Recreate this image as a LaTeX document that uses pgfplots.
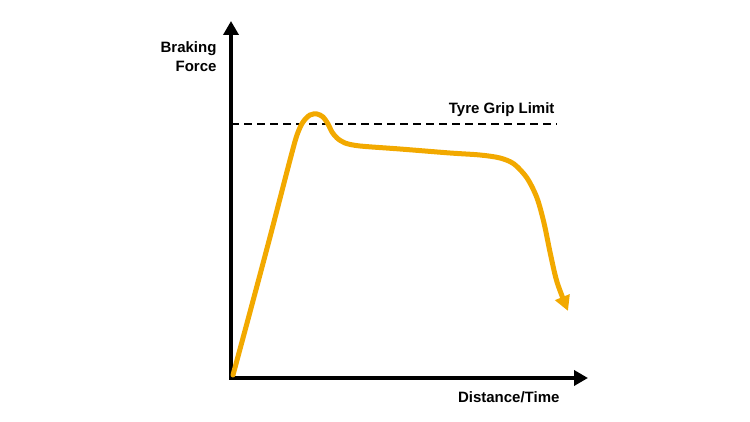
\documentclass[border=0pt]{standalone}
\usepackage{pgfplots}
\pgfplotsset{compat=1.18}
\usepackage{fontspec}
\setmainfont{Liberation Sans}
\usetikzlibrary{arrows.meta}
\definecolor{curveorange}{RGB}{242,169,0}
\begin{document}
\begin{tikzpicture}
\begin{axis}[
  x=1pt, y=1pt,
  xmin=-231, xmax=519, ymin=-44, ymax=378,
  hide axis, clip=false,
  anchor=south west, at={(0,0)},
]
% axes
\draw[line width=4pt, -{Triangle[length=14pt,width=15pt]}] (axis cs:-2,0) -- (axis cs:357,0);
\draw[line width=4pt, -{Triangle[length=14pt,width=15pt]}] (axis cs:0,-2) -- (axis cs:0,357);
% grip limit
\addplot[black, line width=1.6pt, dash pattern=on 8pt off 5pt] coordinates {(0,254) (326,254)};
% braking force curve
\addplot[curveorange, line width=5pt, smooth, tension=0.5, line cap=round,
  -{Triangle[length=15pt,width=15pt]}] coordinates {
(2,3) (19,66) (39,141) (59,218) (66,243) (72,256) (79,263) (86,264) (92,261) (97,254)
(101,246) (106,240) (114,235) (129,232) (169,229) (219,225) (249,223) (269,220)
(283,214) (296,200) (306,180) (313,155) (319,126) (326,96) (337,67)};
\node[anchor=east, align=right, font=\bfseries\fontsize{15}{19}\selectfont] at (axis cs:-11,321.5) {Braking\\Force};
\node[anchor=east, font=\bfseries\fontsize{15}{19}\selectfont] at (axis cs:327,268) {Tyre Grip Limit};
\node[anchor=east, font=\bfseries\fontsize{15}{19}\selectfont] at (axis cs:332,-19) {Distance/Time};
\end{axis}
\path[use as bounding box] (0,0) rectangle (750pt,422pt);
\end{tikzpicture}
\end{document}
